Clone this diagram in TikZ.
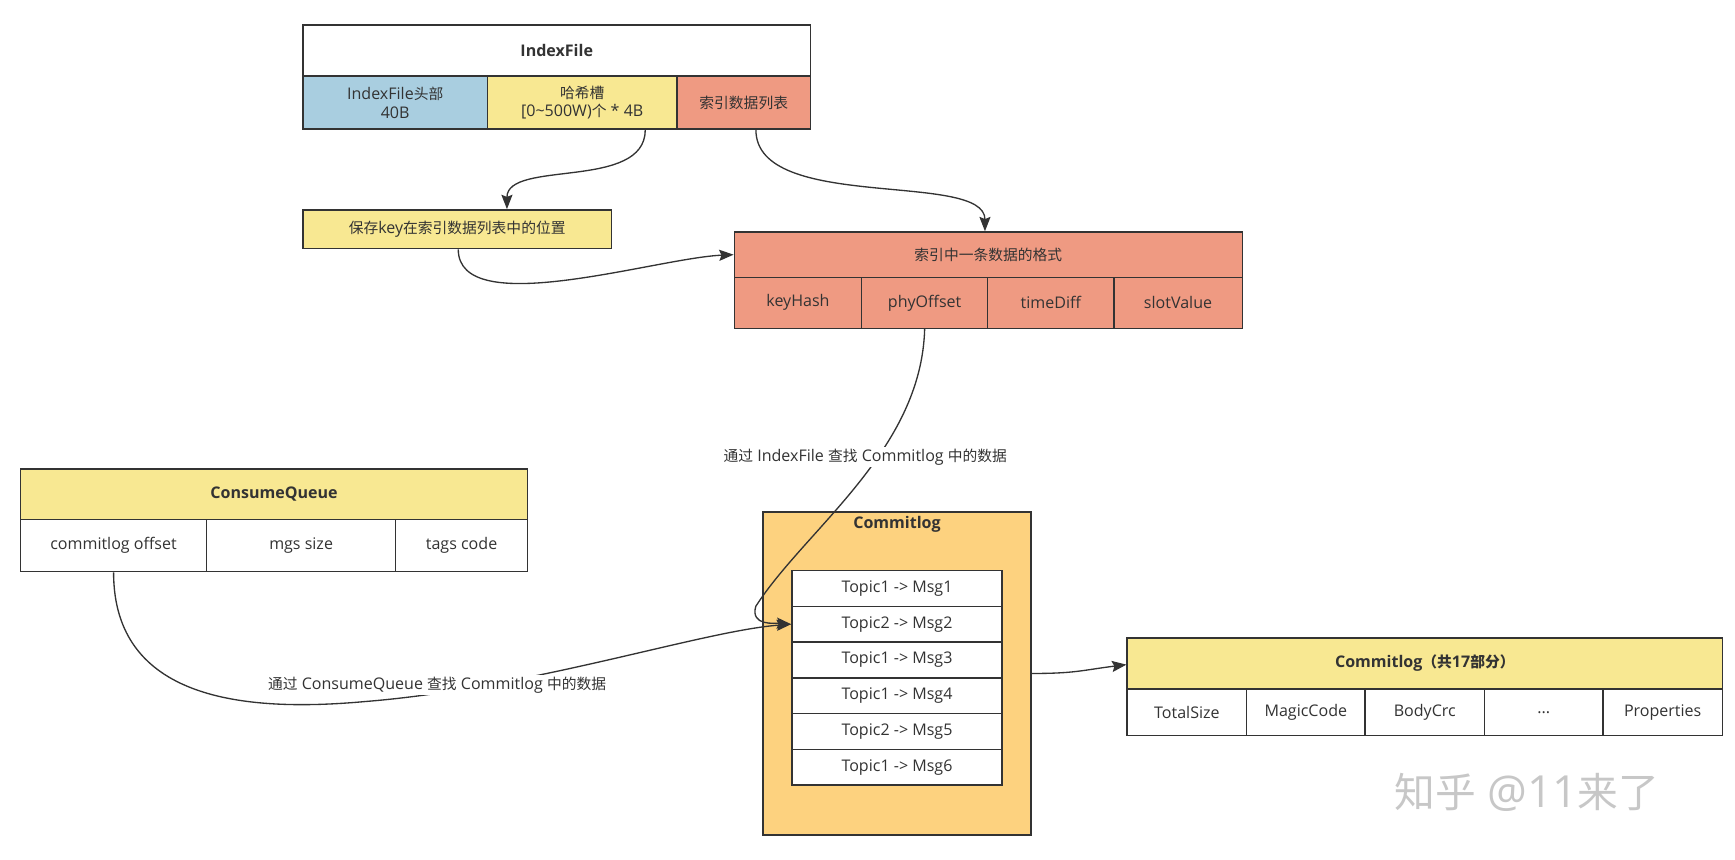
\documentclass[tikz,border=0pt]{standalone}
\usepackage{fontspec}
\setmainfont{Open Sans}
\newfontfamily\zhfont[Scale=0.92]{Noto Sans CJK SC}
\usetikzlibrary{arrows.meta}

\definecolor{hdrblue}{HTML}{A9CEE0}
\definecolor{hdryellow}{HTML}{F8E892}
\definecolor{hdrsalmon}{HTML}{EF9A82}
\definecolor{logorange}{HTML}{FDD27F}
\definecolor{edge}{HTML}{333333}

\begin{document}
\begin{tikzpicture}[x=1pt,y=-1pt,
        cell/.style={draw=edge, line width=1.3pt, anchor=north west, inner sep=0pt,
            font=\fontsize{14.5}{17}\selectfont, text=black!80, align=center},
        title/.style={cell, font=\fontsize{14.5}{17}\selectfont\bfseries},
        link/.style={draw=edge, line width=1.2pt, -{Stealth[length=13pt,width=10pt,inset=2pt]}},
        note/.style={fill=white, inner sep=2pt, font=\fontsize{14.5}{17}\selectfont, text=black!80}]
    \useasboundingbox (0,0) rectangle (1568,777);

    % IndexFile
    \node[title, fill=white, minimum width=459, minimum height=46] (index) at (273,22) {IndexFile};
    \node[cell, fill=hdrblue, minimum width=167, minimum height=48] (head) at (273,68) {IndexFile{\zhfont 头部}\\40B};
    \node[cell, fill=hdryellow, minimum width=171, minimum height=48] (slot) at (440,68) {{\zhfont 哈希槽}\\{[0\textasciitilde500W){\zhfont 个} * 4B}};
    \node[cell, fill=hdrsalmon, minimum width=121, minimum height=48] (list) at (611,68) {\zhfont 索引数据列表};

    \node[cell, fill=hdryellow, minimum width=279, minimum height=35] (keypos) at (273,189) {{\zhfont 保存}key{\zhfont 在索引数据列表中的位置}};

    % one entry of the index
    \node[cell, fill=hdrsalmon, minimum width=459, minimum height=41] (entry) at (663,209) {\zhfont 索引中一条数据的格式};
    \node[cell, fill=hdrsalmon, minimum width=115, minimum height=46] (hash) at (663,250) {keyHash};
    \node[cell, fill=hdrsalmon, minimum width=114, minimum height=46] (phy) at (778,250) {phyOffset};
    \node[cell, fill=hdrsalmon, minimum width=114, minimum height=46] (diff) at (892,250) {timeDiff};
    \node[cell, fill=hdrsalmon, minimum width=116, minimum height=46] (slotval) at (1006,250) {slotValue};

    % ConsumeQueue
    \node[title, fill=hdryellow, minimum width=458, minimum height=46] (cq) at (18,423) {ConsumeQueue};
    \node[cell, fill=white, minimum width=168, minimum height=47] (cqoff) at (18,469) {commitlog offset};
    \node[cell, fill=white, minimum width=171, minimum height=47] (cqsize) at (186,469) {mgs size};
    \node[cell, fill=white, minimum width=119, minimum height=47] (cqtag) at (357,469) {tags code};

    % Commitlog
    \node[cell, fill=logorange, minimum width=242, minimum height=292] (clog) at (689,462) {};
    \node[font=\fontsize{14.5}{17}\selectfont\bfseries, text=black!80, anchor=north] (clogtitle)
        at ([yshift=-1pt]clog.north) {Commitlog};
    \node[cell, fill=white, minimum width=190, minimum height=32.3] (m1) at (715,515) {Topic1 -> Msg1};
    \node[cell, fill=white, minimum width=190, minimum height=32.3] (m2) at (715,547.3) {Topic2 -> Msg2};
    \node[cell, fill=white, minimum width=190, minimum height=32.3] (m3) at (715,579.6) {Topic1 -> Msg3};
    \node[cell, fill=white, minimum width=190, minimum height=32.3] (m4) at (715,611.9) {Topic1 -> Msg4};
    \node[cell, fill=white, minimum width=190, minimum height=32.3] (m5) at (715,644.2) {Topic2 -> Msg5};
    \node[cell, fill=white, minimum width=190, minimum height=32.3] (m6) at (715,676.5) {Topic1 -> Msg6};

    % Commitlog record layout
    \node[title, fill=hdryellow, minimum width=538, minimum height=46] (rec) at (1018,576) {Commitlog{\zhfont （共}17{\zhfont 部分）}};
    \node[cell, fill=white, minimum width=108, minimum height=42] (total) at (1018,622) {TotalSize};
    \node[cell, fill=white, minimum width=107, minimum height=42] (magic) at (1126,622) {MagicCode};
    \node[cell, fill=white, minimum width=108, minimum height=42] (crc) at (1233,622) {BodyCrc};
    \node[cell, fill=white, minimum width=107, minimum height=42] (dots) at (1341,622) {...};
    \node[cell, fill=white, minimum width=108, minimum height=42] (props) at (1448,622) {Properties};

    % connectors
    \draw[link] ([xshift=57pt]slot.south) .. controls +(0,55) and +(0,-45) .. ([xshift=45pt]keypos.north);
    \draw[link] ([xshift=11pt]list.south) .. controls +(0,75) and +(0,-55) .. ([xshift=-3pt]entry.north);
    \draw[link] ([xshift=1pt]keypos.south) .. controls +(0,65) and +(-70,3) .. (entry.west);
    \draw[link] (phy.south) .. controls +(-3,110) and +(45,-70) .. (683,548)
        .. controls (678,566) and (700,563) .. (m2.west);
    \draw[link] (cqoff.south) .. controls +(0,115) and +(-110,10) .. (330,634)
        .. controls +(150,-12) and +(-80,6) .. (m2.west);
    \draw[link] (clog.east) .. controls +(40,0) and +(-40,5) .. ([yshift=-1pt]rec.west);

    \node[note] (viaindex) at (782,413) {{\zhfont 通过} IndexFile {\zhfont 查找} Commitlog {\zhfont 中的数据}};
    \node[note] (viacq) at (395,619) {{\zhfont 通过} ConsumeQueue {\zhfont 查找} Commitlog {\zhfont 中的数据}};

    \node[text=black!22, font=\fontsize{40}{44}\selectfont] (mark) at (1380,716) {{\zhfont 知乎} @11{\zhfont 来了}};
\end{tikzpicture}
\end{document}
